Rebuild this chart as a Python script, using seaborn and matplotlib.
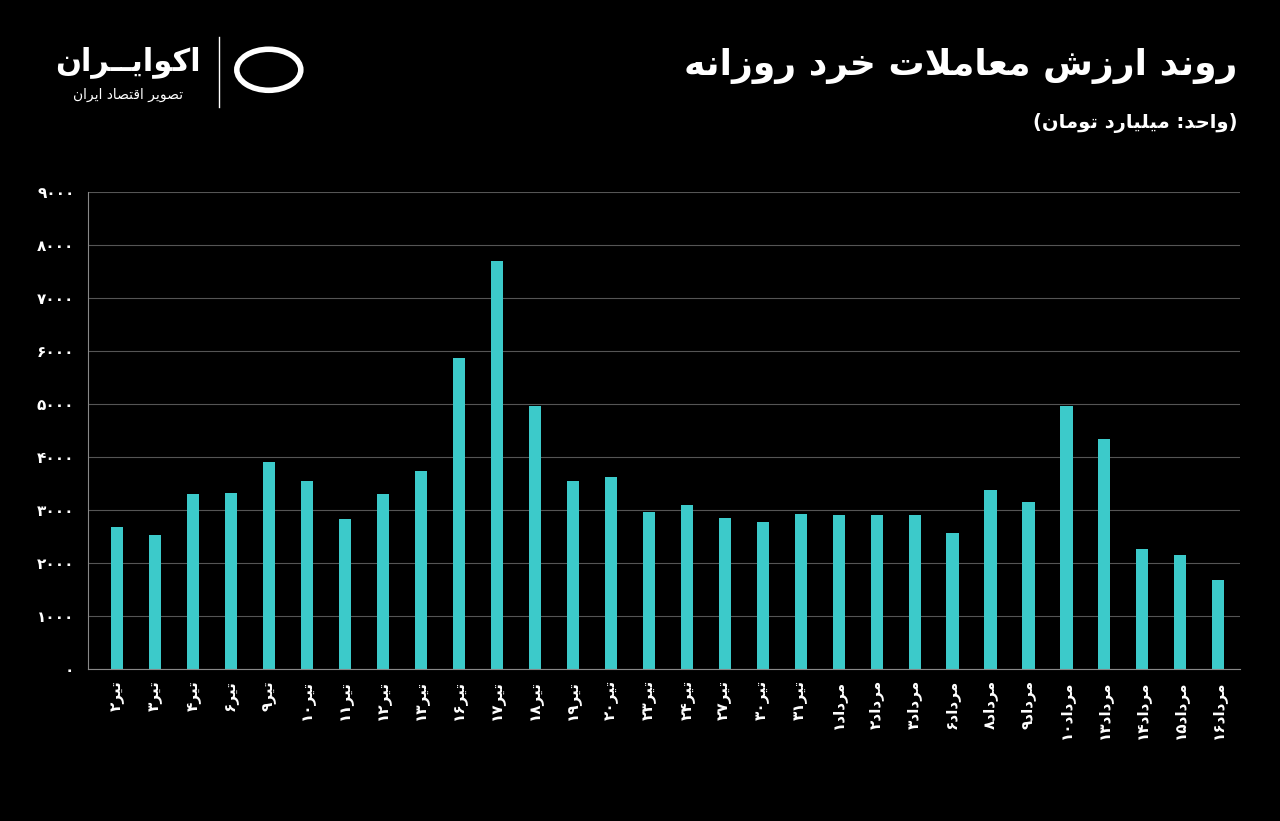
import matplotlib
matplotlib.use("Agg")
import matplotlib.pyplot as plt
import seaborn as sns
import pandas as pd

# ---------- data ----------
categories = ["تیر۲","تیر۳","تیر۴","تیر۶","تیر۹","تیر۱۰","تیر۱۱","تیر۱۲","تیر۱۳","تیر۱۶",
              "تیر۱۷","تیر۱۸","تیر۱۹","تیر۲۰","تیر۲۳","تیر۲۴","تیر۲۷","تیر۳۰","تیر۳۱","مرداد۱",
              "مرداد۲","مرداد۳","مرداد۶","مرداد۸","مرداد۹","مرداد۱۰","مرداد۱۳","مرداد۱۴","مرداد۱۵","مرداد۱۶"]
values = [2680, 2530, 3300, 3330, 3900, 3540, 2830, 3300, 3730, 5870,
          7700, 4960, 3540, 3620, 2960, 3090, 2860, 2770, 2930, 2900,
          2910, 2900, 2570, 3380, 3150, 4960, 4350, 2270, 2150, 1690]
yticks = [0, 1000, 2000, 3000, 4000, 5000, 6000, 7000, 8000, 9000]
title = "روند ارزش معاملات خرد روزانه"
subtitle = "(واحد: میلیارد تومان)"
brand = "اکوایــران"
brand_sub = "تصویر اقتصاد ایران"

# ---------- minimal Arabic-script shaping ----------
FORMS = {
    'ا': ('\uFE8D','\uFE8E',None,None), 'د': ('\uFEA9','\uFEAA',None,None),
    'ر': ('\uFEAD','\uFEAE',None,None), 'ز': ('\uFEAF','\uFEB0',None,None),
    'و': ('\uFEED','\uFEEE',None,None),
    'ت': ('\uFE95','\uFE96','\uFE97','\uFE98'), 'پ': ('\uFB56','\uFB57','\uFB58','\uFB59'),
    'ح': ('\uFEA1','\uFEA2','\uFEA3','\uFEA4'), 'خ': ('\uFEA5','\uFEA6','\uFEA7','\uFEA8'),
    'س': ('\uFEB1','\uFEB2','\uFEB3','\uFEB4'), 'ش': ('\uFEB5','\uFEB6','\uFEB7','\uFEB8'),
    'ص': ('\uFEB9','\uFEBA','\uFEBB','\uFEBC'), 'ع': ('\uFEC9','\uFECA','\uFECB','\uFECC'),
    'ق': ('\uFED5','\uFED6','\uFED7','\uFED8'), 'ک': ('\uFB8E','\uFB8F','\uFB90','\uFB91'),
    'ل': ('\uFEDD','\uFEDE','\uFEDF','\uFEE0'), 'م': ('\uFEE1','\uFEE2','\uFEE3','\uFEE4'),
    'ن': ('\uFEE5','\uFEE6','\uFEE7','\uFEE8'), 'ه': ('\uFEE9','\uFEEA','\uFEEB','\uFEEC'),
    'ی': ('\uFBFC','\uFBFD','\uFBFE','\uFBFF'),
    'ـ': ('ـ','ـ','ـ','ـ'),
    'لا': ('\uFEFB','\uFEFC',None,None),
}
def joins_left(c):
    return c in FORMS and FORMS[c][2] is not None
def shape(s):
    toks = []
    i = 0
    while i < len(s):
        if s[i] == 'ل' and i + 1 < len(s) and s[i+1] == 'ا':
            toks.append('لا'); i += 2
        else:
            toks.append(s[i]); i += 1
    out = []
    for k, t in enumerate(toks):
        if t not in FORMS:
            out.append(t); continue
        prev = k > 0 and joins_left(toks[k-1])
        nxt = k + 1 < len(toks) and toks[k+1] in FORMS and joins_left(t)
        iso, fin, ini, med = FORMS[t]
        if prev and nxt: out.append(med)
        elif prev: out.append(fin)
        elif nxt: out.append(ini)
        else: out.append(iso)
    rev = out[::-1]
    mirror = {'(': ')', ')': '('}
    rev = [mirror.get(c, c) for c in rev]
    res, run = [], []
    for c in rev:
        if c.isdigit():
            run.append(c)
        else:
            if run: res.extend(run[::-1]); run = []
            res.append(c)
    if run: res.extend(run[::-1])
    return ''.join(res)

def fa_digits(n):
    return str(n).translate(str.maketrans('0123456789', '۰۱۲۳۴۵۶۷۸۹'))

# ---------- plot ----------
plt.rcParams['font.family'] = 'DejaVu Sans'
fig = plt.figure(figsize=(12.8, 8.21), dpi=100, facecolor='black')
ax = fig.add_axes([0.069, 0.185, 0.9, 0.581])
ax.set_facecolor('black')

df = pd.DataFrame({'cat': [shape(c) for c in categories], 'val': values})
sns.barplot(data=df, x='cat', y='val', color='#3ccaca', width=0.32, saturation=1, ax=ax)

ax.set_ylim(0, 9000)
ax.set_xlim(-0.765, len(categories) - 1 + 0.58)
ax.set_yticks(yticks)
ax.set_yticklabels([fa_digits(v) for v in yticks], color='white', fontsize=11, fontweight='bold')
ax.tick_params(axis='x', labelrotation=90, colors='white', labelsize=11, length=0, pad=8)
for lab in ax.get_xticklabels():
    lab.set_fontweight('bold')
ax.tick_params(axis='y', length=0, pad=10)
ax.grid(axis='y', color='#555555', linewidth=0.8)
ax.set_axisbelow(True)
for s in ['top', 'right']:
    ax.spines[s].set_visible(False)
for s in ['left', 'bottom']:
    ax.spines[s].set_color('#888888')
ax.set_xlabel(''); ax.set_ylabel('')

fig.text(0.967, 0.92, shape(title), color='white', fontsize=26, fontweight='bold', ha='right', va='center')
fig.text(0.967, 0.85, shape(subtitle), color='white', fontsize=14, fontweight='bold', ha='right', va='center')
fig.text(0.1, 0.925, shape(brand), color='white', fontsize=22, fontweight='bold', ha='center', va='center')
fig.text(0.1, 0.885, shape(brand_sub), color='white', fontsize=10, ha='center', va='center')
fig.add_artist(plt.Line2D([0.171, 0.171], [0.87, 0.955], color='white', lw=1, transform=fig.transFigure))
fig.add_artist(matplotlib.patches.Circle((0.21, 0.915), 0.025, transform=fig.transFigure,
                                         facecolor='none', edgecolor='white', lw=4))

fig.savefig('out.png', dpi=100, facecolor='black')
